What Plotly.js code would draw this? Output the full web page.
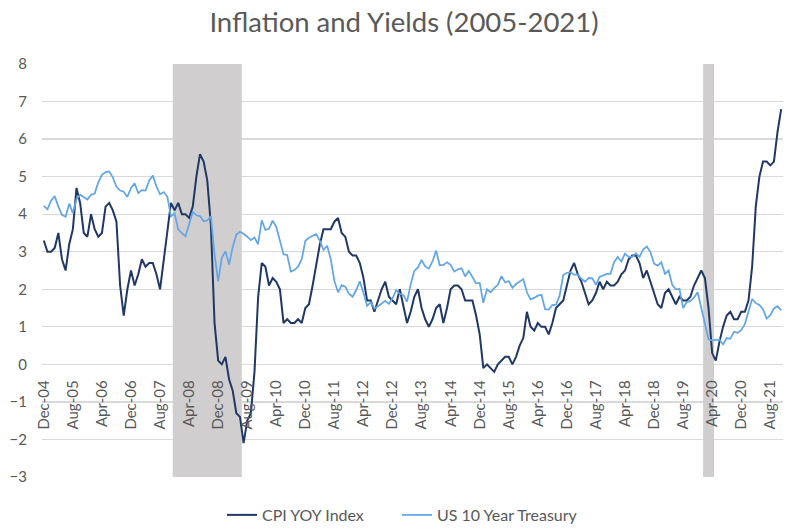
<!DOCTYPE html>
<html>
<head>
<meta charset="utf-8">
<script src="https://cdn.plot.ly/plotly-3.0.1.min.js"></script>
<style>html,body{margin:0;padding:0;background:#fff;}#chart{width:800px;height:532px;}</style>
</head>
<body>
<div id="chart"></div>
<script>
// Month categories Dec-04 .. Nov-21
const monthNames = ['Jan','Feb','Mar','Apr','May','Jun','Jul','Aug','Sep','Oct','Nov','Dec'];
const categories = [];
for (let y = 2004; y <= 2021; y++) {
  for (let m = 0; m < 12; m++) {
    if (y === 2004 && m < 11) continue;
    if (y === 2021 && m > 10) continue;
    categories.push(monthNames[m] + '-' + String(y).slice(2));
  }
}

// CPI YOY Index (%), Dec-04 .. Nov-21
const cpiYoY = [
  3.3,
  3.0,3.0,3.1,3.5,2.8,2.5,3.2,3.6,4.7,4.3,3.5,3.4,
  4.0,3.6,3.4,3.5,4.2,4.3,4.1,3.8,2.1,1.3,2.0,2.5,
  2.1,2.4,2.8,2.6,2.7,2.7,2.4,2.0,2.8,3.5,4.3,4.1,
  4.3,4.0,4.0,3.9,4.2,5.0,5.6,5.4,4.9,3.7,1.1,0.1,
  0.0,0.2,-0.4,-0.7,-1.3,-1.4,-2.1,-1.5,-1.3,-0.2,1.8,2.7,
  2.6,2.1,2.3,2.2,2.0,1.1,1.2,1.1,1.1,1.2,1.1,1.5,
  1.6,2.1,2.7,3.2,3.6,3.6,3.6,3.8,3.9,3.5,3.4,3.0,
  2.9,2.9,2.7,2.3,1.7,1.7,1.4,1.7,2.0,2.2,1.8,1.7,
  1.6,2.0,1.5,1.1,1.4,1.8,2.0,1.5,1.2,1.0,1.2,1.5,
  1.6,1.1,1.5,2.0,2.1,2.1,2.0,1.7,1.7,1.7,1.3,0.8,
  -0.1,0.0,-0.1,-0.2,0.0,0.1,0.2,0.2,0.0,0.2,0.5,0.7,
  1.4,1.0,0.9,1.1,1.0,1.0,0.8,1.1,1.5,1.6,1.7,2.1,
  2.5,2.7,2.4,2.2,1.9,1.6,1.7,1.9,2.2,2.0,2.2,2.1,
  2.1,2.2,2.4,2.5,2.8,2.9,2.9,2.7,2.3,2.5,2.2,1.9,
  1.6,1.5,1.9,2.0,1.8,1.6,1.8,1.7,1.7,1.8,2.1,2.3,
  2.5,2.3,1.5,0.3,0.1,0.6,1.0,1.3,1.4,1.2,1.2,1.4,
  1.4,1.7,2.6,4.2,5.0,5.4,5.4,5.3,5.4,6.2,6.8
];

// US 10 Year Treasury yield (%), month-end, Dec-04 .. Nov-21
const ust10y = [
  4.22,
  4.13,4.36,4.48,4.20,3.98,3.93,4.28,4.03,4.40,4.52,4.46,4.39,
  4.52,4.55,4.85,5.05,5.12,5.14,4.98,4.73,4.63,4.60,4.46,4.70,
  4.82,4.56,4.64,4.63,4.89,5.03,4.74,4.53,4.59,4.47,3.94,4.02,
  3.59,3.51,3.41,3.73,4.06,3.97,3.95,3.81,3.83,3.95,2.92,2.21,
  2.84,3.01,2.66,3.12,3.46,3.53,3.48,3.40,3.31,3.38,3.20,3.84,
  3.58,3.61,3.83,3.66,3.29,2.93,2.91,2.47,2.51,2.60,2.80,3.29,
  3.37,3.42,3.47,3.29,3.05,3.16,2.80,2.22,1.92,2.11,2.07,1.88,
  1.80,1.98,2.21,1.91,1.56,1.65,1.49,1.55,1.63,1.69,1.61,1.76,
  1.98,1.88,1.85,1.67,2.13,2.49,2.58,2.78,2.61,2.55,2.74,3.03,
  2.64,2.65,2.72,2.65,2.47,2.53,2.56,2.34,2.49,2.34,2.16,2.17,
  1.64,2.00,1.92,2.03,2.12,2.35,2.18,2.22,2.04,2.14,2.21,2.27,
  1.92,1.73,1.77,1.83,1.85,1.47,1.46,1.58,1.59,1.83,2.38,2.44,
  2.45,2.39,2.39,2.28,2.20,2.30,2.29,2.12,2.33,2.38,2.41,2.41,
  2.72,2.86,2.74,2.95,2.86,2.86,2.96,2.86,3.06,3.14,2.99,2.68,
  2.63,2.72,2.41,2.50,2.12,2.00,2.01,1.50,1.66,1.69,1.78,1.92,
  1.51,1.15,0.67,0.64,0.65,0.66,0.53,0.70,0.68,0.87,0.84,0.91,
  1.07,1.40,1.74,1.63,1.58,1.47,1.22,1.31,1.49,1.55,1.44
];

const tickLabels = ['Dec-04','Aug-05','Apr-06','Dec-06','Aug-07','Apr-08','Dec-08','Aug-09',
  'Apr-10','Dec-10','Aug-11','Apr-12','Dec-12','Aug-13','Apr-14','Dec-14','Aug-15','Apr-16',
  'Dec-16','Aug-17','Apr-18','Dec-18','Aug-19','Apr-20','Dec-20','Aug-21'];

// Recession periods (first and last month shaded)
const recessionStart = ['Dec-07','Feb-20'];
const recessionEnd   = ['Jun-09','Apr-20'];

const yMin = -3, yMax = 8;

const shapes = recessionStart.map((s, i) => ({
  type: 'rect', layer: 'between',
  xref: 'x', yref: 'y',
  x0: categories.indexOf(s) - 0.5,
  x1: categories.indexOf(recessionEnd[i]) + 0.5,
  y0: yMin, y1: yMax,
  fillcolor: '#D0CECE', line: {width: 0}
}));

const textColor = '#595959';
const font = 'Lato, "Open Sans", sans-serif';

const traces = [
  {x: categories, y: cpiYoY, type: 'scatter', mode: 'lines', name: 'CPI YOY Index',
   legend: 'legend', line: {color: '#203864', width: 2}},
  {x: categories, y: ust10y, type: 'scatter', mode: 'lines', name: 'US 10 Year Treasury',
   legend: 'legend2', line: {color: '#62A6E6', width: 1.75}}
];

const legendBase = {orientation: 'h', xref: 'container', xanchor: 'left',
  yref: 'container', y: 0.032, yanchor: 'middle',
  font: {family: font, size: 16, color: textColor}};

const layout = {
  width: 800, height: 532,
  margin: {l: 42, r: 17, t: 64, b: 55},
  paper_bgcolor: '#ffffff', plot_bgcolor: '#ffffff',
  font: {family: font, color: textColor, size: 15},
  title: {text: 'Inflation and Yields (2005-2021)', x: 0.505, xref: 'container', xanchor: 'center',
          y: 0.958, yref: 'container', yanchor: 'middle',
          font: {family: font, size: 27.5, color: textColor}},
  xaxis: {
    type: 'category', range: [-0.5, categories.length - 0.5],
    tickmode: 'array', tickvals: tickLabels, ticktext: tickLabels,
    tickangle: -90, showgrid: false, showline: false, zeroline: false,
    ticks: '', anchor: 'free', position: (0 - yMin) / (yMax - yMin),
    ticklabelstandoff: 12,
    tickfont: {family: font, size: 15, color: textColor}
  },
  yaxis: {
    range: [yMin, yMax], dtick: 1, tick0: 0,
    showgrid: true, gridcolor: '#D9D9D9', gridwidth: 1.3,
    zeroline: true, zerolinecolor: '#D9D9D9', zerolinewidth: 1.3,
    showline: false, ticks: '', ticklabelstandoff: 14,
    tickfont: {family: font, size: 15, color: textColor}
  },
  shapes: shapes,
  showlegend: true,
  legend: Object.assign({}, legendBase, {x: 222 / 800}),
  legend2: Object.assign({}, legendBase, {x: 397 / 800})
};

Plotly.newPlot('chart', traces, layout, {displayModeBar: false, staticPlot: true});
</script>
</body>
</html>
